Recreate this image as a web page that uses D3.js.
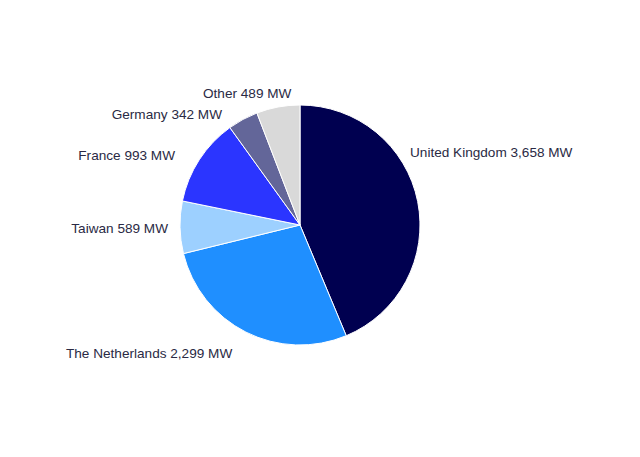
<!DOCTYPE html>
<html><head><meta charset="utf-8">
<script src="https://cdn.jsdelivr.net/npm/d3@7"></script>
<style>body{margin:0;background:#fff}text{font-family:Arial,"Liberation Sans",sans-serif;font-size:13.6px;fill:#2a2a44}</style>
</head><body>
<svg id="chart" width="640" height="457"></svg>
<script>
var countries = ["United Kingdom", "The Netherlands", "Taiwan", "France", "Germany", "Other"];
var capacity = [3658, 2299, 589, 993, 342, 489];
var colors = ["#000050", "#1f8fff", "#9dd0ff", "#2b35ff", "#636699", "#d9d9d9"];
// label placement (layout only): x, y, anchor
var labelLayout = [[410, 157, "start"], [66, 358, "start"], [168, 233, "end"], [175, 160, "end"], [222, 119, "end"], [203, 98, "start"]];

var svg = d3.select("#chart");
var cx = 300, cy = 225, r = 120;
var data = countries.map(function(c, i) { return {name: c, value: capacity[i], i: i}; });
var pie = d3.pie().sort(null).value(function(d) { return d.value; });
var arc = d3.arc().innerRadius(0).outerRadius(r);
var g = svg.append("g").attr("transform", "translate(" + cx + "," + cy + ")");
g.selectAll("path").data(pie(data)).enter().append("path")
  .attr("d", arc)
  .attr("fill", function(d) { return colors[d.data.i]; })
  .attr("stroke", "#fff").attr("stroke-width", 1);
var fmt = d3.format(",");
svg.selectAll("text.lbl").data(data).enter().append("text")
  .attr("class", "lbl")
  .attr("x", function(d) { return labelLayout[d.i][0]; })
  .attr("y", function(d) { return labelLayout[d.i][1]; })
  .attr("text-anchor", function(d) { return labelLayout[d.i][2]; })
  .text(function(d) { return d.name + " " + fmt(d.value) + " MW"; });
</script>
</body></html>
